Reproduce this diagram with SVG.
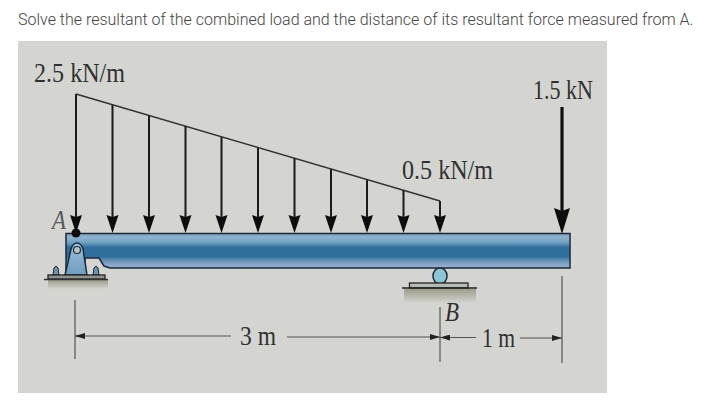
<svg xmlns="http://www.w3.org/2000/svg" width="702" height="416" viewBox="0 0 702 416">
<defs>
<linearGradient id="beam" x1="0" y1="0" x2="0" y2="1">
<stop offset="0" stop-color="#7f9fb8"/><stop offset="0.1" stop-color="#8fb4cf"/><stop offset="0.24" stop-color="#6d9fc2"/><stop offset="0.36" stop-color="#2f6e9c"/><stop offset="0.6" stop-color="#2f7099"/><stop offset="0.72" stop-color="#6c97bb"/><stop offset="0.84" stop-color="#93a9cd"/><stop offset="1" stop-color="#8aa2c6"/>
</linearGradient>
<linearGradient id="post" x1="0" y1="0" x2="0" y2="1"><stop offset="0" stop-color="#9cc0da"/><stop offset="1" stop-color="#6f9cc2"/></linearGradient>
<linearGradient id="shade" x1="0" y1="0" x2="0" y2="1"><stop offset="0" stop-color="#9e9c8c"/><stop offset="1" stop-color="#d4d5d0"/></linearGradient>
<filter id="soft" x="-5%" y="-5%" width="110%" height="110%"><feGaussianBlur stdDeviation="0.45"/></filter>
<marker id="dim" viewBox="0 0 10 6" refX="10" refY="3" markerWidth="10" markerHeight="6" orient="auto-start-reverse" markerUnits="userSpaceOnUse"><path d="M0 0L10 3L0 6Z" fill="#222"/></marker>
</defs>
<style>
.t{font-family:"Liberation Serif","Times New Roman",serif;fill:#303030;font-size:28px}
.i{font-style:italic}
.l{stroke:#1d1d1d;stroke-width:2;fill:none}
.d{stroke:#555;stroke-width:1.2;fill:none}
.o{stroke:#1c2a3a;stroke-width:1.5}
.b{filter:url(#soft)}
</style>
<rect width="702" height="416" fill="#fff"/>
<text x="18" y="25" font-family="Roboto,sans-serif" font-size="16" font-weight="300" fill="#444">Solve the resultant of the combined load and the distance of its resultant force measured from A.</text>
<rect x="18" y="41" width="589" height="352" fill="#d4d5d0"/>

<g id="beam-node" class="b">
<path d="M66 233.500H570V268H110L104 266L99 258H85V272H66Z" fill="url(#beam)" class="o"/>
</g>

<g id="support-a" class="b">
<rect x="48" y="280" width="60" height="9" fill="url(#shade)"/>
<path d="M65 275L71 249Q73 243 77 243Q81 243 83 249L87 275Z" fill="url(#post)" class="o" stroke-linejoin="round"/>
<circle cx="77" cy="250" r="3.500" fill="#b8c6c8" stroke="#1c2a3a" stroke-width="1.200"/>
<path d="M53 275L54 268L56 266L58 268L59 275ZM93 275L94 268L96 266L98 268L99 275Z" fill="#6f93ad" stroke="#1c2a3a"/>
<rect x="48" y="275" width="57" height="4" fill="#8f958f" stroke="#222" stroke-width="1.300"/>
<line x1="44" y1="279.500" x2="108" y2="279.500" stroke="#333" stroke-width="1.300"/>
<circle cx="76" cy="233" r="4.500" fill="#111"/>
</g>

<g id="support-b" class="b">
<rect x="404" y="289" width="72" height="14" fill="url(#shade)"/>
<ellipse cx="440" cy="276" rx="7" ry="8" fill="#8ec5d6" stroke="#1c2a3a" stroke-width="1.500"/>
<rect x="409.500" y="283" width="58.500" height="5" fill="#b4bdb5" stroke="#222" stroke-width="1.300"/>
<line x1="402" y1="288" x2="477" y2="288" stroke="#222" stroke-width="1.500"/>
</g>

<g id="connectors" class="b">
<path stroke="#333" stroke-width="1.500" fill="none" d="M76 94L440 201"/>
<g class="l">
<path d="M76 94V218"/><path d="M112.500 105V218"/><path d="M149 116V218"/><path d="M185.500 126V218"/><path d="M221.500 137V218"/><path d="M258 148V218"/><path d="M294.500 158V218"/><path d="M331 169V218"/><path d="M367 180V218"/><path d="M403.500 190V218"/><path d="M440 201V218"/>
</g>
<g fill="#111">
<path d="M70 215L76 217L82 215L76 233Z"/><path d="M106.500 215L112.500 217L118.500 215L112.500 233Z"/><path d="M143 215L149 217L155 215L149 233Z"/><path d="M179.500 215L185.500 217L191.500 215L185.500 233Z"/><path d="M215.500 215L221.500 217L227.500 215L221.500 233Z"/><path d="M252 215L258 217L264 215L258 233Z"/><path d="M288.500 215L294.500 217L300.500 215L294.500 233Z"/><path d="M325 215L331 217L337 215L331 233Z"/><path d="M361 215L367 217L373 215L367 233Z"/><path d="M397.500 215L403.500 217L409.500 215L403.500 233Z"/><path d="M434 215L440 217L446 215L440 233Z"/>
</g>
<path d="M562 107V215" stroke="#111" stroke-width="3.200" fill="none"/>
<path d="M554 208L562 211L570 208L562 234Z" fill="#111"/>
<g class="d">
<path d="M75 300V359"/><path d="M440 307V362"/><path d="M562 276V363"/>
<path d="M75 336H231" marker-start="url(#dim)"/>
<path d="M287 337H440" marker-end="url(#dim)"/>
<path d="M440 337.500H476" marker-start="url(#dim)"/>
<path d="M520 338H562" marker-end="url(#dim)"/>
</g>
</g>

<g id="labels">
<text class="t" x="34" y="82" textLength="91" lengthAdjust="spacingAndGlyphs">2.5 kN/m</text>
<text class="t" x="533" y="99" textLength="60" lengthAdjust="spacingAndGlyphs">1.5 kN</text>
<text class="t" x="402" y="179" textLength="91" lengthAdjust="spacingAndGlyphs">0.5 kN/m</text>
<text class="t i" x="52" y="229" style="fill:#5a5a5a" textLength="14" lengthAdjust="spacingAndGlyphs">A</text>
<text class="t i" x="445" y="321" textLength="14" lengthAdjust="spacingAndGlyphs">B</text>
<text class="t" x="240" y="345" textLength="36" lengthAdjust="spacingAndGlyphs">3 m</text>
<text class="t" x="482" y="347" textLength="33" lengthAdjust="spacingAndGlyphs">1 m</text>
</g>
</svg>
